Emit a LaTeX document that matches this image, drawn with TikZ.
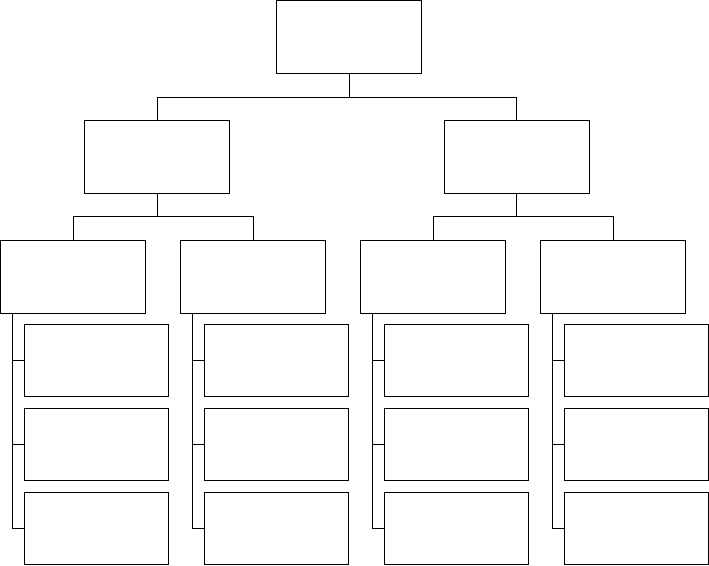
\documentclass[tikz,border=0pt]{standalone}
\usetikzlibrary{positioning}
\tikzstyle{caja} = [draw, rectangle, line width=0.9pt, minimum width=145pt, minimum height=73pt, inner sep=0pt, outer sep=0pt]
\tikzstyle{hoja} = [caja, minimum width=144pt, minimum height=72pt]
\tikzstyle{rama} = [line width=0.9pt]

\begin{document}
\begin{tikzpicture}[x=1pt,y=1pt]
	\useasboundingbox (0,0) rectangle (709,-565);
	% raiz y primer nivel
	\node [caja] (raiz) at (349,-37) {};
	\node [caja] (izq) at (157,-156.5) {};
	\node [caja] (der) at (516.5,-156.5) {};
	\draw [rama] (raiz.south) -- ++(0,-23.5) -| (izq.north);
	\draw [rama] (raiz.south) -- ++(0,-23.5) -| (der.north);
	% segundo nivel
	\node [caja] (ii) at (73,-276.5) {};
	\node [caja] (id) at (253,-276.5) {};
	\node [caja] (di) at (433,-276.5) {};
	\node [caja] (dd) at (613,-276.5) {};
	\draw [rama] (izq.south) -- ++(0,-23.5) -| (ii.north);
	\draw [rama] (izq.south) -- ++(0,-23.5) -| (id.north);
	\draw [rama] (der.south) -- ++(0,-23.5) -| (di.north);
	\draw [rama] (der.south) -- ++(0,-23.5) -| (dd.north);
	% hojas
	\foreach \g in {ii,id,di,dd}{
		\node [hoja, anchor=north west] (\g-1) at ([xshift=24pt,yshift=-11pt]\g.south west) {};
		\node [hoja, below=12pt of \g-1] (\g-2) {};
		\node [hoja, below=12pt of \g-2] (\g-3) {};
		\coordinate (\g-s) at ([xshift=12pt]\g.south west);
		\draw [rama] (\g-s) |- (\g-3.west);
		\draw [rama] (\g-s |- \g-1.west) -- (\g-1.west);
		\draw [rama] (\g-s |- \g-2.west) -- (\g-2.west);
	}
\end{tikzpicture}
\end{document}
